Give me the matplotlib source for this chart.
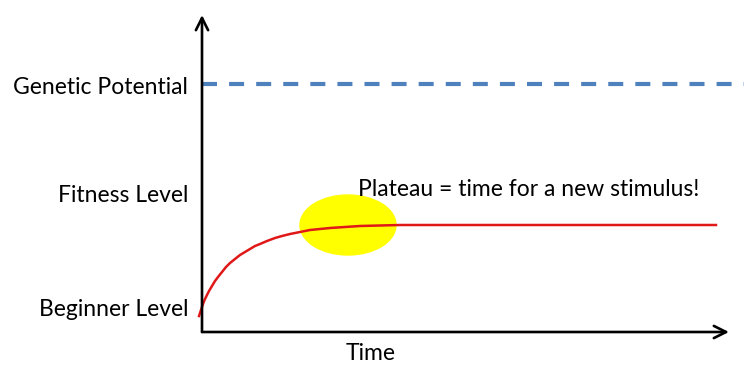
import matplotlib.pyplot as plt
from matplotlib.patches import Ellipse

# values (units roughly in pixels above / right of the origin)
time_pts = [-3, -1, 1, 3, 5, 7, 10, 13, 16, 20, 24, 28, 33, 38, 43, 48, 53, 58,
            65, 73, 80, 88, 98, 108, 118, 128, 143, 158, 178, 198, 514]
fitness_pts = [16, 22, 28, 33, 37, 41, 46, 51, 55, 60, 65, 69, 73, 77, 80, 83, 86, 88,
               91, 94, 96, 98, 100, 102, 103, 104, 105, 106, 106.5, 107, 107]
genetic_potential = 248
level_labels = ['Beginner Level', 'Fitness Level', 'Genetic Potential']
level_label_pos = [24, 139, 246]
plateau_note = 'Plateau = time for a new stimulus!'
plateau_spot = (146, 107)

plt.rcParams['font.family'] = ['Lato', 'DejaVu Sans']

fig = plt.figure(figsize=(7.44, 3.83), dpi=100)
ax = fig.add_axes([202 / 744, 51 / 383, 542 / 744, 332 / 383])
ax.set_xlim(0, 542)
ax.set_ylim(0, 332)
for s in ax.spines.values():
    s.set_visible(False)
ax.set_xticks([])
ax.set_yticks(level_label_pos)
ax.set_yticklabels(level_labels, fontsize=16.5)
ax.tick_params(axis='y', length=0, pad=10)

# yellow highlight behind the plateau
ax.add_patch(Ellipse(plateau_spot, 96, 60, color='#ffff00', zorder=1, clip_on=False))

# genetic potential
ax.axhline(genetic_potential, color='#4f81bd', lw=3, dashes=(3.6, 2.9), zorder=2)

# fitness curve
ax.plot(time_pts, fitness_pts, color='#e01818', lw=1.8, zorder=3, clip_on=False)

# axes with arrow heads
arrow = dict(arrowstyle='->', lw=1.9, color='black', mutation_scale=22, shrinkA=0, shrinkB=0)
ax.annotate('', xy=(0, 317), xytext=(0, 0), arrowprops=arrow, annotation_clip=False)
ax.annotate('', xy=(527, 0), xytext=(0, 0), arrowprops=arrow, annotation_clip=False)

ax.text(169, -21, 'Time', fontsize=16.5, ha='center', va='center')
ax.text(156, 142, plateau_note, fontsize=16.5, ha='left', va='center', zorder=4)

fig.savefig('out.png', dpi=100)
